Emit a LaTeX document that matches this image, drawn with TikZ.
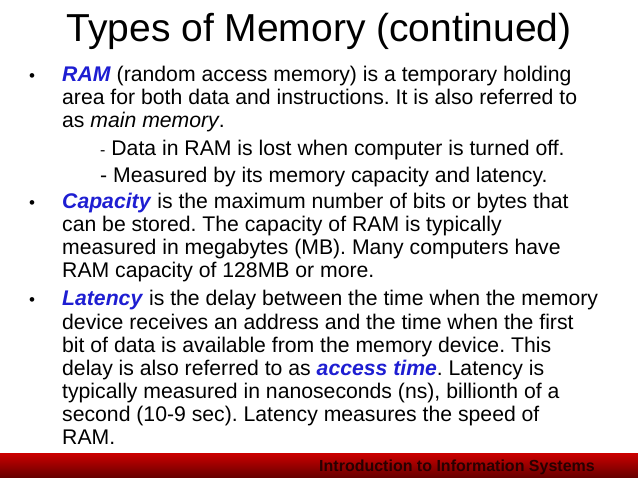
\documentclass[tikz,border=0pt]{standalone}
\usepackage{fontspec}
\setmainfont{Liberation Sans}
\definecolor{kw}{RGB}{30,30,210}
\definecolor{barT}{RGB}{200,0,0}
\definecolor{barB}{RGB}{100,0,0}
\definecolor{bartext}{RGB}{40,0,0}
\frenchspacing
\begin{document}
\begin{tikzpicture}[x=1pt,y=-1pt,
  ln/.style={anchor=base west,inner sep=0pt,font=\fontsize{21.2}{22}\selectfont},
  bul/.style={anchor=base west,inner sep=0pt,font=\fontsize{17}{18}\selectfont}]
\useasboundingbox (0,0) rectangle (638,478);
\fill[white] (0,0) rectangle (638,478);
\shade[top color=barT,bottom color=barB] (0,454) rectangle (638,478);
\node[anchor=base,inner sep=0pt,font=\fontsize{39}{40}\selectfont] (title) at (319,42) {Types of Memory (continued)};
\node[bul] (b1) at (29,82) {•};
\node[ln] (l1) at (62,82) {\textcolor{kw}{\textbf{\textit{RAM}}} (random access memory) is a temporary holding};
\node[ln] (l2) at (62,105) {area for both data and instructions. It is also referred to};
\node[ln] (l3) at (62,128) {as \textit{main memory}.};
\node[ln] (l4) at (100,156) {{\fontsize{16}{16}\selectfont -} Data in RAM is lost when computer is turned off.};
\node[ln] (l5) at (100,183) {- Measured by its memory capacity and latency.};
\node[bul] (b2) at (29,209) {•};
\node[ln] (l6) at (62,209) {\textcolor{kw}{\textbf{\textit{Capacity}}} is the maximum number of bits or bytes that};
\node[ln] (l7) at (62,232) {can be stored. The capacity of RAM is typically};
\node[ln] (l8) at (62,255) {measured in megabytes (MB). Many computers have};
\node[ln] (l9) at (62,278) {RAM capacity of 128MB or more.};
\node[bul] (b3) at (29,306) {•};
\node[ln] (l10) at (62,306) {\textcolor{kw}{\textbf{\textit{Latency}}} is the delay between the time when the memory};
\node[ln] (l11) at (62,330) {device receives an address and the time when the first};
\node[ln] (l12) at (62,353) {bit of data is available from the memory device. This};
\node[ln] (l13) at (62,376) {delay is also referred to as \textcolor{kw}{\textbf{\textit{access time}}}. Latency is};
\node[ln] (l14) at (62,399) {typically measured in nanoseconds (ns), billionth of a};
\node[ln] (l15) at (62,422) {second (10-9 sec). Latency measures the speed of};
\node[ln] (l16) at (62,445) {RAM.};
\node[anchor=base east,inner sep=0pt,text=bartext,font=\bfseries\fontsize{16}{17}\selectfont] (foot) at (595,472) {Introduction to Information Systems};
\end{tikzpicture}
\end{document}
